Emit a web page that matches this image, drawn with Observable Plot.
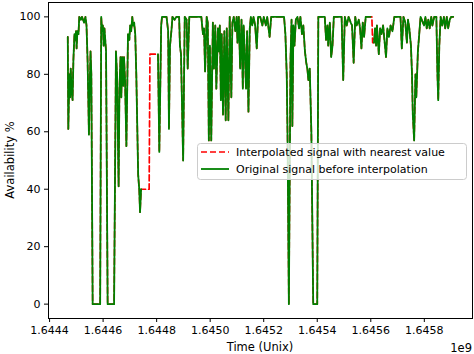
<!DOCTYPE html>
<html>
<head>
<meta charset="utf-8">
<script src="https://cdn.jsdelivr.net/npm/d3@7"></script>
<script src="https://cdn.jsdelivr.net/npm/@observablehq/plot@0.6"></script>
<style>
html,body{margin:0;padding:0;background:#fff;}
#chart{width:474px;height:354px;}
</style>
</head>
<body>
<div id="chart"></div>
<script>
// Time (Unix), in thousands of seconds
const timeKs = [1644468,1644470,1644474,1644477,1644479,1644482,1644486,1644489,1644493,1644495,1644499,1644501,1644504,1644508,1644511,1644517,1644521,1644529,1644534,1644538,1644542,1644545,1644547,1644550,1644553,1644556,1644561,1644589,1644593,1644596,1644599,1644602,1644605,1644608,1644611,1644617,1644641,1644648,1644652,1644658,1644661,1644665,1644668,1644671,1644675,1644678,1644682,1644687,1644693,1644698,1644701,1644705,1644709,1644712,1644716,1644720,1644724,1644728,1644731,1644735,1644738,1644742,1644772,1644775,1644805,1644810,1644817,1644820,1644837,1644843,1644846,1644850,1644856,1644859,1644867,1644874,1644884,1644887,1644891,1644899,1644905,1644912,1644916,1644922,1644967,1644973,1644977,1644981,1644987,1644991,1644995,1644999,1645004,1645010,1645014,1645019,1645023,1645029,1645032,1645036,1645040,1645043,1645048,1645053,1645058,1645062,1645068,1645073,1645079,1645083,1645088,1645094,1645099,1645102,1645107,1645112,1645117,1645122,1645125,1645129,1645134,1645138,1645143,1645148,1645152,1645157,1645162,1645168,1645174,1645179,1645187,1645195,1645200,1645208,1645213,1645222,1645228,1645276,1645281,1645286,1645289,1645294,1645300,1645304,1645307,1645311,1645315,1645320,1645326,1645332,1645337,1645343,1645348,1645354,1645359,1645363,1645367,1645372,1645378,1645385,1645400,1645404,1645428,1645433,1645438,1645441,1645447,1645452,1645457,1645462,1645491,1645497,1645503,1645510,1645517,1645525,1645530,1645536,1645542,1645547,1645555,1645560,1645565,1645570,1645575,1645581,1645599,1645604,1645607,1645612,1645616,1645620,1645623,1645630,1645635,1645640,1645646,1645651,1645657,1645662,1645668,1645674,1645681,1645688,1645711,1645716,1645722,1645729,1645735,1645739,1645744,1645750,1645754,1645757,1645762,1645767,1645770,1645776,1645781,1645786,1645799,1645804,1645809,1645815,1645820,1645826,1645830,1645837,1645845,1645849,1645852,1645856,1645861,1645867,1645873,1645878,1645884,1645889,1645895,1645900,1645908];
// Availability % of the original signal (null = missing sample)
const availability = [93,61,80,72,82,75,71,85,94,92,95,89,95,94,100,99,100,98,100,97,85,70,59,75,88,80,0,0,100,95,97,90,96,92,88,0,0,88,80,41,75,86,72,86,76,86,78,55,94,92,97,95,100,97,98,94,80,60,45,40,32,40,null,null,87,53,97,100,100,95,61,90,96,100,99,100,100,90,87,50,100,99,82,100,100,94,96,81,100,98,57,90,57,98,82,97,75,96,88,97,71,94,66,95,64,96,64,100,72,98,100,95,100,91,100,82,99,75,97,88,75,95,67,96,100,97,100,97,89,100,100,97,100,97,100,93,100,100,94,80,59,0,85,99,62,97,90,99,100,96,100,94,97,88,84,82,78,82,60,0,0,100,100,92,97,90,98,86,90,100,100,78,100,97,100,98,97,84,100,97,99,96,89,98,93,100,100,null,null,91,96,90,97,87,96,94,97,92,86,96,93,97,95,100,100,89,100,98,91,99,96,90,80,66,57,80,72,88,94,100,97,100,96,99,96,100,97,100,100,80,71,90,100,97,100,96,100,96,99,100,100];
const xTicks = [1.6444e9,1.6446e9,1.6448e9,1.6450e9,1.6452e9,1.6454e9,1.6456e9,1.6458e9];
const yTicks = [0,20,40,60,80,100];
const legendLabels = ["Interpolated signal with nearest value","Original signal before interpolation"];

const original = timeKs.map((t,i)=>({t: t*1000, v: availability[i]}));
// nearest-value interpolation of missing samples
const known = original.filter(d=>d.v!=null);
const interpolated = original.map(d=>{
  if (d.v!=null) return d;
  let best = known[0];
  for (const k of known) if (Math.abs(k.t-d.t) < Math.abs(best.t-d.t)) best = k;
  return {t: d.t, v: best.v};
});

const ext = d3.extent(original, d=>d.t);
const pad = (ext[1]-ext[0])*0.05;

const W=474,H=354, mL=48, mR=2, mT=2, mB=36;
const font = "DejaVu Sans, sans-serif";
const chart = Plot.plot({
  width: W, height: H,
  marginLeft: mL, marginRight: mR, marginTop: mT, marginBottom: mB,
  style: {fontFamily: font, fontSize: "11px", color: "black", background: "white"},
  x: {domain: [ext[0]-pad, ext[1]+pad]},
  y: {domain: [-5,105]},
  marks: [
    Plot.axisX({ticks: xTicks, tickFormat: d=>(d/1e9).toFixed(4), tickSize: 4, tickPadding: 4, label: null, fontSize: 11, stroke: "black"}),
    Plot.axisY({ticks: yTicks, tickSize: 4, tickPadding: 4, label: null, fontSize: 11, stroke: "black"}),
    Plot.line(interpolated, {x: "t", y: "v", stroke: "red", strokeWidth: 1.7, strokeDasharray: "6,3"}),
    Plot.line(original, {x: "t", y: "v", stroke: "green", strokeWidth: 1.8}),
    Plot.frame({stroke: "black", strokeWidth: 1})
  ]
});
document.getElementById("chart").appendChild(chart);

const svg = d3.select(chart);
svg.append("text").attr("x", mL + (W-mL-mR)/2).attr("y", 351).attr("text-anchor","middle")
  .attr("font-family", font).attr("font-size", 11.5).attr("fill","black").text("Time (Unix)");
svg.append("text").attr("x", W-mR).attr("y", 352).attr("text-anchor","end")
  .attr("font-family", font).attr("font-size", 11.5).attr("fill","black").text("1e9");
svg.append("text").attr("transform", `translate(14,${mT+(H-mT-mB)/2}) rotate(-90)`).attr("text-anchor","middle")
  .attr("font-family", font).attr("font-size", 11.5).attr("fill","black").text("Availability %");

// legend
const lg = svg.append("g");
lg.append("rect").attr("x",197.5).attr("y",143.5).attr("width",269).attr("height",36).attr("rx",3)
  .attr("fill","white").attr("fill-opacity",0.8).attr("stroke","#cccccc");
const styles = [{stroke:"red", dash:"6,3", w:1.7},{stroke:"green", dash:null, w:1.8}];
legendLabels.forEach((lab,i)=>{
  const y = 152 + i*17;
  lg.append("line").attr("x1",201).attr("x2",229).attr("y1",y).attr("y2",y)
    .attr("stroke",styles[i].stroke).attr("stroke-width",styles[i].w).attr("stroke-dasharray",styles[i].dash);
  lg.append("text").attr("x",236).attr("y",y+4).attr("text-anchor","start").attr("font-family",font).attr("font-size",11)
    .attr("fill","black").text(lab);
});
</script>
</body>
</html>
